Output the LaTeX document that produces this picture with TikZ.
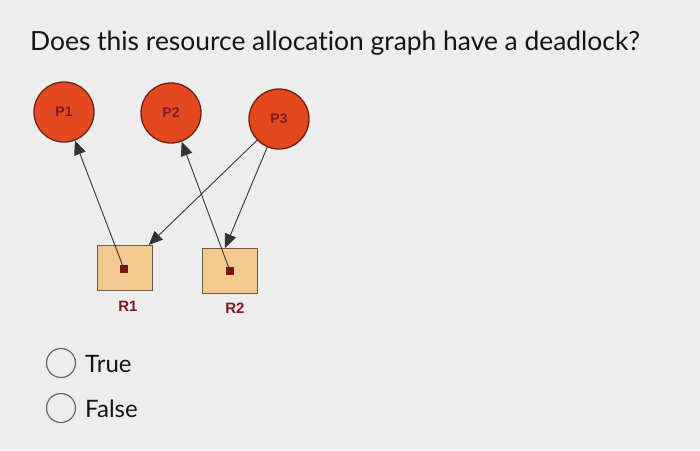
\documentclass[tikz,border=0pt]{standalone}
\usepackage{fontspec}
\setmainfont{Lato}[Ligatures={NoCommon,NoDiscretionary}]
\newfontfamily\labfont{Liberation Sans}
\usetikzlibrary{arrows.meta}
\definecolor{bgc}{HTML}{EDEDED}
\definecolor{procfill}{HTML}{E4481E}
\definecolor{procdraw}{HTML}{6A2412}
\definecolor{resfill}{HTML}{F4C990}
\definecolor{resdraw}{HTML}{6E5A48}
\definecolor{dotc}{HTML}{7E1418}
\definecolor{labc}{HTML}{7E1A22}
\definecolor{txt}{HTML}{141414}
\definecolor{edgec}{HTML}{333333}
\tikzset{
  proc/.style={circle, draw=procdraw, line width=1.3pt, fill=procfill, minimum size=60pt, inner sep=0pt,
    font=\labfont\bfseries\fontsize{14}{14}\selectfont, text=labc},
  res/.style={rectangle, draw=resdraw, line width=1pt, fill=resfill, minimum width=55pt, minimum height=45pt},
  resdot/.style={rectangle, fill=dotc, minimum size=8pt, inner sep=0pt},
  reslab/.style={font=\labfont\bfseries\fontsize{15}{15}\selectfont, text=labc},
  edge/.style={draw=edgec, line width=0.9pt, -{Triangle[length=14pt,width=12pt]}},
  radio/.style={circle, draw=gray!80!black, line width=1.2pt, minimum size=29pt, inner sep=0pt},
  qtext/.style={font=\fontsize{24}{24}\selectfont, text=txt, anchor=base west, inner sep=0pt},
  titletext/.style={font=\fontsize{26.4}{26.4}\selectfont, text=txt, anchor=base west, inner sep=0pt},
}
\begin{document}
\begin{tikzpicture}[x=1pt,y=-1pt]
\fill[bgc] (0,0) rectangle (700,450);
\useasboundingbox (0,0) rectangle (700,450);
\node[titletext] (title) at (30,50) {Does this resource allocation graph have a deadlock?};
\node[proc] (P1) at (64,112) {P1};
\node[proc] (P2) at (171,113) {P2};
\node[proc] (P3) at (279,119) {P3};
\node[res] (R1) at (125,268) {};
\node[res] (R2) at (230,271) {};
\node[resdot] (d1) at (124,269) {};
\node[resdot] (d2) at (230,271) {};
\node[reslab] (l1) at (128,306) {R1};
\node[reslab] (l2) at (235,308) {R2};
\draw[edge] (d1.center) -- (P1);
\draw[edge] (d2.center) -- (P2);
\draw[edge] (P3) -- (R1);
\draw[edge] (P3) -- ([xshift=-5pt]R2.north);
\node[radio] (o1) at (61,363) {};
\node[radio] (o2) at (61,408) {};
\node[qtext] (t1) at (85,372) {True};
\node[qtext] (t2) at (85,417) {False};
\end{tikzpicture}
\end{document}
